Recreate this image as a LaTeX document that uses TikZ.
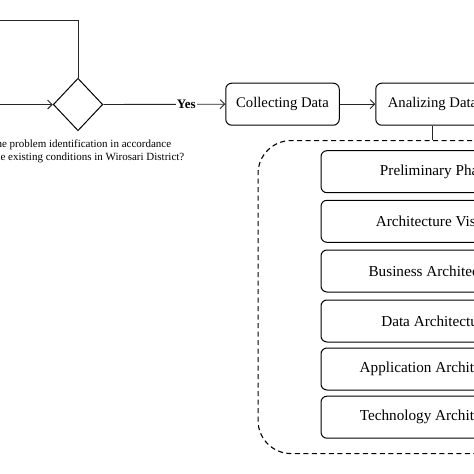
\documentclass[tikz,border=0pt]{standalone}
\usepackage{fontspec}
\setmainfont{Liberation Serif}
\usetikzlibrary{arrows.meta,shapes.geometric}
\tikzset{
  ln/.style={line width=0.9pt, draw=black!85},
  arr/.style={ln, -{Straight Barb[length=4.5pt,width=9pt,line width=0.9pt]}},
  procbox/.style={draw=black, line width=1pt, rounded corners=6pt, inner sep=0pt,
    font=\fontsize{14.7}{17}\selectfont},
  stepbox/.style={procbox, minimum width=229pt, minimum height=42pt,
    font=\fontsize{15.2}{17}\selectfont},
  groupbox/.style={draw=black, line width=1.1pt, dash pattern=on 5pt off 3.5pt, rounded corners=33pt},
}
\begin{document}
\begin{tikzpicture}[x=1pt,y=-1pt]
\useasboundingbox (0,0) rectangle (474,474);
\clip (0,0) rectangle (474,474);
\fill[white] (0,0) rectangle (474,474);

% decision
\node[draw=black, line width=1pt, diamond, inner sep=0pt, minimum width=49.5pt, minimum height=52.5pt] (dia) at (78,104.5) {};
\node[font=\fontsize{11}{13}\selectfont, align=center, anchor=north, inner sep=0pt] (q) at (77,139.5)
  {Is the problem identification in accordance\\with the existing conditions in Wirosari District?};

\coordinate (fb) at (-20,20);
\coordinate (inp) at (-20,104.5);
\draw[ln] (dia.north) |- (fb);
\draw[arr] (inp) -- (dia.west);

% process boxes
\node[procbox, minimum width=113.5pt, minimum height=42pt] (col) at (282.5,104.2) {Collecting Data};
\node[procbox, minimum width=113.5pt, minimum height=42pt] (ana) at (432.5,104.2) {Analizing Data};

\draw[arr] (dia.east) -- node[pos=0.68, fill=white, inner sep=1pt, font=\bfseries\fontsize{13}{15}\selectfont] (yes) {Yes} (col.west);
\draw[arr] (col.east) -- (ana.west);

% group
\node[groupbox, anchor=north west, minimum width=400pt, minimum height=313pt, inner sep=0pt] (grp) at (257.5,140) {};
\draw[ln] (ana.south) -- (ana.south |- grp.north);

\node[stepbox] (p1) at (435.5,171.7) {Preliminary Phase};
\node[stepbox] (p2) at (435.5,221.3) {Architecture Vision};
\node[stepbox] (p3) at (435.5,271) {Business Architecture};
\node[stepbox] (p4) at (435.5,321) {Data Architecture};
\node[stepbox] (p5) at (435.5,369) {Application Architecture};
\node[stepbox] (p6) at (435.5,417.2) {Technology Architecture};
\end{tikzpicture}
\end{document}
